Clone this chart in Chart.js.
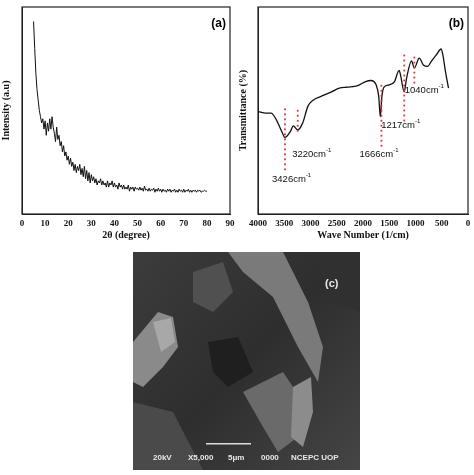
<!DOCTYPE html>
<html>
<head>
<meta charset="utf-8">
<script src="https://cdn.jsdelivr.net/npm/chart.js"></script>
<style>
body { margin: 0; background: #fff; width: 474px; height: 475px; position: relative; overflow: hidden; }
.box { position: absolute; }
</style>
</head>
<body>
<div class="box" style="left:0;top:0;width:237px;height:245px"><canvas id="xrd"></canvas></div>
<div class="box" style="left:237px;top:0;width:237px;height:245px"><canvas id="ftir"></canvas></div>
<canvas id="sem" class="box" width="227" height="218" style="left:133px;top:252px"></canvas>
<script>
// XRD pattern, 2θ from 5 to 80 every 0.5
const xrdStart = 5, xrdStep = 0.5;
const xrdIntensity = [
	93, 80, 68, 60, 55, 50, 47, 44, 46, 41, 45, 38, 44, 40, 46, 41, 47, 42, 39, 35,
	42, 36, 38, 33, 35, 30, 33, 28, 30, 26, 28, 24, 27, 23, 25, 21, 24, 20, 23, 21,
	24, 19, 22, 18, 23, 17, 21, 16, 20, 15, 19, 16, 18, 15, 17, 14, 16, 15, 17, 14,
	16, 14, 15, 13, 16, 13, 15, 14, 16, 13, 15, 13, 14, 12, 15, 13, 14, 12, 14, 12,
	13, 12, 14, 11, 13, 12, 13, 11, 13, 12, 12.5, 11.5, 13, 11.5, 12.5, 11, 13.5, 11.5, 12, 11,
	12.5, 11, 12, 11.5, 12.5, 10.5, 12, 11, 12.5, 11, 12, 10.5, 12, 11, 11.5, 10.5, 12, 11, 12, 10.5,
	11.5, 11, 12, 10.5, 11.5, 10.5, 12, 11, 11.5, 10.5, 12, 10.5, 11.5, 11, 12, 10.5, 11.5, 10.5, 11.5, 11,
	11.5, 10.5, 11.5, 11, 11.5, 10.5, 11, 11, 11.5, 11, 11
];
const xrdTicks = [0, 10, 20, 30, 40, 50, 60, 70, 80, 90];

// FTIR spectrum
const ftirWave = [4000, 3850, 3750, 3650, 3550, 3488, 3380, 3328, 3245, 3150, 3050, 2950, 2800, 2600, 2450, 2300, 2100, 1950, 1850, 1750, 1700, 1670, 1640, 1600, 1500, 1400, 1312, 1280, 1216, 1170, 1075, 1024, 928, 850, 768, 700, 600, 512, 480, 430, 371];
const ftirTrans = [49.5, 48.7, 48.7, 45.5, 40, 37, 40, 42.6, 40.6, 43.9, 52, 55, 56.8, 59, 60.8, 61.3, 62, 64, 64.5, 62.4, 56.8, 47, 56.8, 61.3, 62.4, 64, 69.4, 66.5, 59, 65.6, 74, 70.5, 75.3, 72, 71.3, 73.7, 77, 79.7, 77, 68.9, 60.8];
const ftirTicks = [4000, 3500, 3000, 2500, 2000, 1500, 1000, 500, 0];

// peak markers: x position, dotted line from..to, label and label spot
const peakX = [3488, 3245, 1651, 1216, 1024];
const peakFrom = [51, 50.3, 62.4, 77, 76];
const peakTo = [20.5, 39, 32.6, 45.5, 62.4];
const peakLabel = ['3426', '3220', '1666', '1217', '1040'];
const labelX = [3360, 2976, 1696, 1280, 832];
const labelY = [15.6, 27.7, 27.7, 41.5, 58.4];

const serif = '"Liberation Serif", "Times New Roman", serif';
const sans = '"Liberation Sans", Arial, sans-serif';

const frame = {
	id: 'frame',
	afterDraw(chart, args, opts) {
		const a = chart.chartArea, ctx = chart.ctx;
		ctx.save();
		ctx.strokeStyle = '#222';
		ctx.lineWidth = 1.2;
		ctx.strokeRect(a.left, a.top, a.right - a.left, a.bottom - a.top);
		ctx.font = 'bold 12px ' + sans;
		ctx.fillStyle = '#000';
		ctx.textAlign = 'right';
		ctx.fillText(opts.tag, a.right - 4, a.top + 20);
		ctx.restore();
	}
};

const peaks = {
	id: 'peaks',
	afterDatasetsDraw(chart) {
		const x = chart.scales.x, y = chart.scales.y, ctx = chart.ctx;
		ctx.save();
		ctx.fillStyle = '#e0303a';
		peakX.forEach((p, i) => {
			const px = x.getPixelForValue(p);
			const y0 = y.getPixelForValue(peakFrom[i]), y1 = y.getPixelForValue(peakTo[i]);
			for (let yy = y0; yy <= y1; yy += 5) ctx.fillRect(px - 0.8, yy, 1.8, 1.8);
		});
		ctx.fillStyle = '#111';
		peakLabel.forEach((t, i) => {
			const px = x.getPixelForValue(labelX[i]), py = y.getPixelForValue(labelY[i]);
			ctx.font = '9.5px ' + sans;
			const w = ctx.measureText(t + 'cm').width;
			ctx.font = '6px ' + sans;
			const w2 = ctx.measureText('-1').width;
			const sx = px - (w + w2) / 2;
			ctx.font = '9.5px ' + sans;
			ctx.fillText(t + 'cm', sx, py);
			ctx.font = '6px ' + sans;
			ctx.fillText('-1', sx + w, py - 5);
		});
		ctx.restore();
	}
};

function axes(xOpts, yTitle, xTitle, yWidth) {
	return {
		x: Object.assign({
			type: 'linear',
			grid: { display: false, drawTicks: true, tickLength: 3, tickColor: '#222' },
			border: { color: '#222' },
			ticks: { color: '#111', font: { family: serif, weight: 'bold', size: 9 }, padding: 1, maxRotation: 0, callback: v => String(v) },
			title: { display: true, text: xTitle, color: '#111', font: { family: serif, weight: 'bold', size: 10 }, padding: { top: 3 } },
			afterFit: s => { s.height = 31; }
		}, xOpts),
		y: {
			min: 0, max: 100,
			grid: { display: false },
			border: { color: '#222' },
			ticks: { display: false },
			title: { display: true, text: yTitle, color: '#111', font: { family: serif, weight: 'bold', size: 10 }, padding: 0 },
			afterFit: s => { s.width = yWidth; }
		}
	};
}

function tickList(list) {
	return s => { s.ticks = list.map(v => ({ value: v })); };
}

Chart.defaults.animation = false;

new Chart(document.getElementById('xrd'), {
	type: 'line',
	data: {
		datasets: [{
			data: xrdIntensity.map((v, i) => ({ x: xrdStart + i * xrdStep, y: v })),
			borderColor: '#111', borderWidth: 1, pointRadius: 0, tension: 0
		}]
	},
	options: {
		responsive: true, maintainAspectRatio: false,
		layout: { padding: { top: 7, right: 7, left: 0, bottom: 0 } },
		plugins: { legend: { display: false }, tooltip: { enabled: false }, frame: { tag: '(a)' } },
		scales: axes({ min: 0, max: 90, afterBuildTicks: tickList(xrdTicks) }, 'Intensity (a.u)', '2θ (degree)', 22)
	},
	plugins: [frame]
});

new Chart(document.getElementById('ftir'), {
	type: 'line',
	data: {
		datasets: [{
			data: ftirWave.map((w, i) => ({ x: w, y: ftirTrans[i] })),
			borderColor: '#111', borderWidth: 1.3, pointRadius: 0, tension: 0.35, cubicInterpolationMode: 'monotone'
		}]
	},
	options: {
		responsive: true, maintainAspectRatio: false,
		layout: { padding: { top: 7, right: 6, left: 0, bottom: 0 } },
		plugins: { legend: { display: false }, tooltip: { enabled: false }, frame: { tag: '(b)' } },
		scales: axes({ min: 0, max: 4000, reverse: true, afterBuildTicks: tickList(ftirTicks) }, 'Transmittance (%)', 'Wave Number (1/cm)', 21)
	},
	plugins: [frame, peaks]
});

// SEM micrograph stand-in
const c = document.getElementById('sem').getContext('2d');
const g = c.createLinearGradient(0, 0, 227, 218);
g.addColorStop(0, '#3c3c3c'); g.addColorStop(0.5, '#2e2e2e'); g.addColorStop(1, '#454545');
c.fillStyle = g; c.fillRect(0, 0, 227, 218);
function blob(pts, col) {
	c.beginPath(); c.moveTo(pts[0][0], pts[0][1]);
	for (let i = 1; i < pts.length; i++) c.lineTo(pts[i][0], pts[i][1]);
	c.closePath(); c.fillStyle = col; c.fill();
}
blob([[95, 0], [150, 0], [175, 50], [190, 95], [185, 130], [165, 95], [140, 45], [110, 20]], '#7a7a7a');
blob([[0, 90], [25, 60], [40, 65], [45, 95], [30, 115], [10, 135], [0, 130]], '#8a8a8a');
blob([[20, 70], [38, 66], [42, 90], [28, 100]], '#a8a8a8');
blob([[110, 140], [150, 120], [170, 150], [165, 185], [145, 200], [130, 175]], '#6a6a6a');
blob([[160, 135], [178, 125], [180, 160], [170, 195], [158, 185]], '#8c8c8c');
blob([[60, 20], [90, 10], [100, 40], [80, 60], [60, 50]], '#505050');
blob([[75, 90], [105, 85], [120, 120], [95, 135], [80, 120]], '#1f1f1f');
blob([[0, 150], [40, 160], [70, 218], [0, 218]], '#4a4a4a');
blob([[180, 0], [227, 0], [227, 60], [200, 50]], '#303030');
c.fillStyle = '#ddd';
c.fillRect(73, 191, 45, 1.5);
c.font = 'bold 8px ' + sans;
c.fillStyle = '#e8e8e8';
c.fillText('20kV', 20, 208);
c.fillText('X5,000', 55, 208);
c.fillText('5μm', 95, 208);
c.fillText('0000', 128, 208);
c.fillText('NCEPC UOP', 158, 208);
c.font = 'bold 11px ' + sans;
c.fillText('(c)', 192, 35);
</script>
</body>
</html>
